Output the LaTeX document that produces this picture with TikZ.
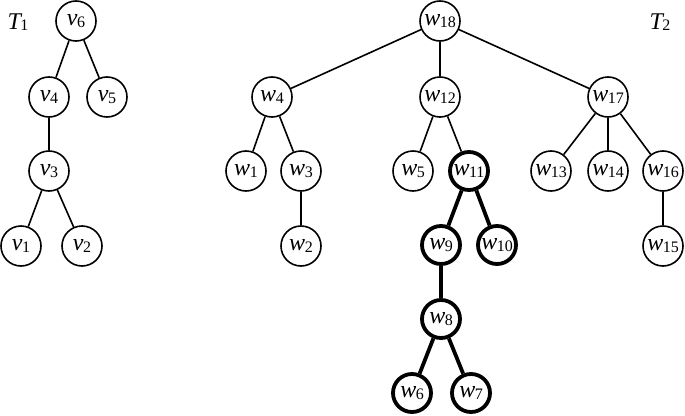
\documentclass[tikz,border=0pt]{standalone}
\usepackage{fontspec}
\setmainfont{Liberation Serif}
\newcommand\lab[2]{{\fontsize{24}{24}\selectfont\itshape #1}\kern-0.5pt\raisebox{-0.35ex}{\fontsize{16}{16}\selectfont #2}}
\begin{document}
\begin{tikzpicture}[x=1pt,y=-1pt,
  vert/.style={circle,draw,line width=1.6pt,minimum size=40pt,inner sep=0pt},
  hv/.style={vert,line width=3.8pt,minimum size=38pt},
  ed/.style={line width=1.6pt},
  hed/.style={line width=3.8pt}]
\useasboundingbox (0,0) rectangle (685,415);
% T1
\node at (18,22) {\lab{T}{1}};
\node[vert] (v6) at (76,21) {\lab{v}{6}};
\node[vert] (v4) at (49,97) {\lab{v}{4}};
\node[vert] (v5) at (107,97) {\lab{v}{5}};
\node[vert] (v3) at (49,171) {\lab{v}{3}};
\node[vert] (v1) at (21,246) {\lab{v}{1}};
\node[vert] (v2) at (82,246) {\lab{v}{2}};
\draw[ed] (v6)--(v4); \draw[ed] (v6)--(v5); \draw[ed] (v4)--(v3);
\draw[ed] (v3)--(v1); \draw[ed] (v3)--(v2);
% T2
\node at (660,22) {\lab{T}{2}};
\node[vert] (w18) at (440,21) {\lab{w}{18}};
\node[vert] (w4) at (272,97) {\lab{w}{4}};
\node[vert] (w12) at (440,97) {\lab{w}{12}};
\node[vert] (w17) at (608,97) {\lab{w}{17}};
\node[vert] (w1) at (246,171) {\lab{w}{1}};
\node[vert] (w3) at (301,171) {\lab{w}{3}};
\node[vert] (w5) at (413,171) {\lab{w}{5}};
\node[hv] (w11) at (469,171) {\lab{w}{11}};
\node[vert] (w13) at (551,171) {\lab{w}{13}};
\node[vert] (w14) at (608,171) {\lab{w}{14}};
\node[vert] (w16) at (663,171) {\lab{w}{16}};
\node[vert] (w2) at (301,246) {\lab{w}{2}};
\node[hv] (w9) at (441,245) {\lab{w}{9}};
\node[hv] (w10) at (497,245) {\lab{w}{10}};
\node[vert] (w15) at (663,246) {\lab{w}{15}};
\node[hv] (w8) at (441,319) {\lab{w}{8}};
\node[hv] (w6) at (412,393) {\lab{w}{6}};
\node[hv] (w7) at (471,393) {\lab{w}{7}};
\draw[ed] (w18)--(w4); \draw[ed] (w18)--(w12); \draw[ed] (w18)--(w17);
\draw[ed] (w4)--(w1); \draw[ed] (w4)--(w3); \draw[ed] (w3)--(w2);
\draw[ed] (w12)--(w5); \draw[ed] (w12)--(w11);
\draw[ed] (w17)--(w13); \draw[ed] (w17)--(w14); \draw[ed] (w17)--(w16);
\draw[ed] (w16)--(w15);
\draw[hed] (w11)--(w9); \draw[hed] (w11)--(w10); \draw[hed] (w9)--(w8);
\draw[hed] (w8)--(w6); \draw[hed] (w8)--(w7);
\end{tikzpicture}
\end{document}
